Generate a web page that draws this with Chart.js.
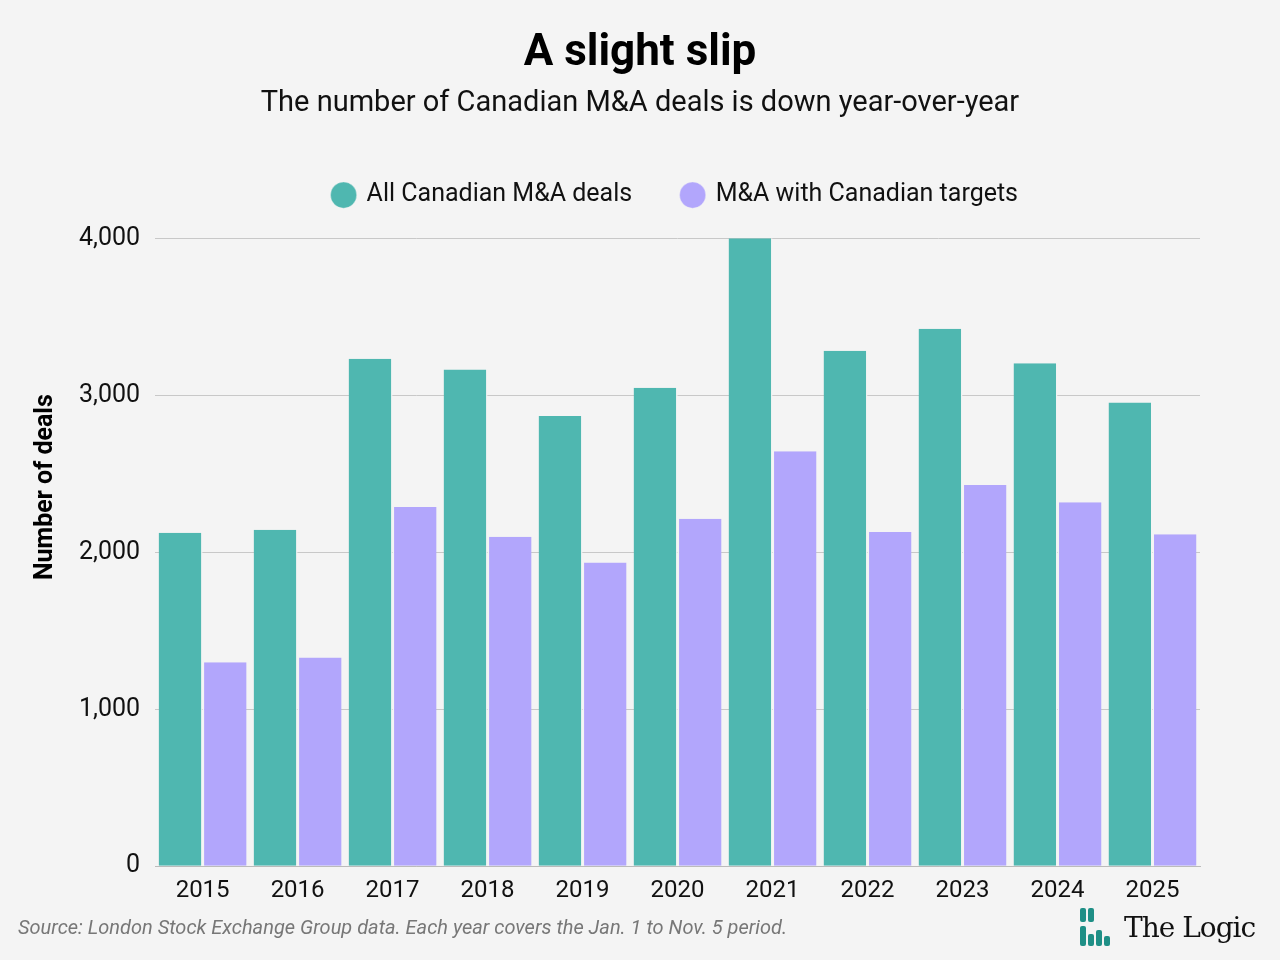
<!DOCTYPE html>
<html>
<head>
<meta charset="utf-8">
<script src="https://cdn.jsdelivr.net/npm/chart.js@4"></script>
<style>
  body { margin: 0; background: #f4f4f4; font-family: Roboto, sans-serif; }
  #wrap { position: relative; width: 1280px; height: 960px; }
  #source { position: absolute; left: 18px; top: 915px; font-size: 20px; font-style: italic; color: #777; }
  #logo { position: absolute; left: 1080px; top: 908px; display: flex; align-items: center; }
  #logo .icon { position: relative; width: 32px; height: 38px; margin-right: 12px; }
  #logo .icon span { position: absolute; background: #1f8f86; width: 6px; border-radius: 2px; }
  #logo .txt { font-family: "DejaVu Serif", "Liberation Serif", serif; font-size: 28px; color: #111; letter-spacing: -1px; }
</style>
</head>
<body>
<div id="wrap">
  <canvas id="myChart"></canvas>
  <div id="source">Source: London Stock Exchange Group data. Each year covers the Jan. 1 to Nov. 5 period.</div>
  <div id="logo">
    <div class="icon">
      <span style="left:0;top:0;height:14px"></span>
      <span style="left:8px;top:0;height:14px"></span>
      <span style="left:0;top:18px;height:20px"></span>
      <span style="left:8px;top:26px;height:12px"></span>
      <span style="left:16px;top:22px;height:16px"></span>
      <span style="left:24px;top:28px;height:10px"></span>
    </div>
    <div class="txt">The Logic</div>
  </div>
</div>
<script>
// 年
const years = ['2015', '2016', '2017', '2018', '2019', '2020', '2021', '2022', '2023', '2024', '2025'];
// 全てのカナダM&A件数
const allDeals = [2125, 2145, 3235, 3165, 2870, 3050, 4005, 3285, 3425, 3205, 2955];
// カナダ企業が対象のM&A件数
const targetDeals = [1300, 1330, 2290, 2100, 1935, 2215, 2645, 2130, 2430, 2320, 2115];

const data = {
    labels: years,
    datasets: [{
        label: 'All Canadian M&A deals',
        data: allDeals,
        backgroundColor: '#4fb7b0',
        borderColor: '#f4f4f4',
        borderWidth: { left: 0, right: 1.5, top: 0, bottom: 0 }
    }, {
        label: 'M&A with Canadian targets',
        data: targetDeals,
        backgroundColor: '#b2a6fc',
        borderColor: '#f4f4f4',
        borderWidth: { left: 1.5, right: 0, top: 0, bottom: 0 }
    }]
};

// 凡例の下に余白を調整する
const legendSpace = {
    id: 'legendSpace',
    beforeInit(chart) {
        const origFit = chart.legend.fit;
        chart.legend.fit = function () {
            origFit.bind(chart.legend)();
            this.height += 21;
        };
    },
    // タイトルはキャンバス中央、凡例はグラフ領域中央に寄せる
    afterLayout(chart) {
        const area = chart.chartArea;
        chart.boxes.forEach(box => {
            if (box.axis) return;
            const target = box === chart.legend ? (area.left + area.right) / 2 - 2 : chart.width / 2;
            const d = target - (box.left + box.right) / 2;
            box.left += d;
            box.right += d;
        });
    }
};

const config = {
    type: 'bar',
    data: data,
    options: {
        responsive: true,
        maintainAspectRatio: false,
        animation: false,
        layout: { padding: { left: 27, right: 80, top: 28, bottom: 53 } },
        datasets: { bar: { barPercentage: 1.0, categoryPercentage: 0.926 } },
        plugins: {
            title: {
                display: true,
                text: 'A slight slip',
                color: '#000',
                font: { family: 'Roboto', size: 44, weight: 'bold' },
                padding: { top: 0, bottom: 6 }
            },
            subtitle: {
                display: true,
                text: 'The number of Canadian M&A deals is down year-over-year',
                color: '#111',
                font: { family: 'Roboto', size: 29 },
                padding: { top: 0, bottom: 11 }
            },
            legend: {
                labels: {
                    usePointStyle: true,
                    pointStyle: 'circle',
                    boxWidth: 21,
                    boxHeight: 18.5,
                    padding: 50,
                    color: '#111',
                    font: { family: 'Roboto', size: 25 }
                }
            },
            tooltip: { enabled: false }
        },
        scales: {
            x: {
                grid: { display: false },
                border: { color: '#bbb' },
                ticks: { color: '#111', font: { family: 'Roboto', size: 24 }, padding: 2 }
            },
            y: {
                min: 0,
                max: 4000,
                ticks: {
                    stepSize: 1000,
                    color: '#111',
                    padding: 15,
                    font: { family: 'Roboto', size: 25 },
                    callback: v => v.toLocaleString('en-US')
                },
                grid: { color: '#c8c8c8', drawTicks: false },
                border: { display: false },
                title: {
                    display: true,
                    // 先頭の空白で文字を少し上に寄せる
                    text: '\u00a0'.repeat(21) + 'Number of deals',
                    color: '#000',
                    font: { family: 'Roboto', size: 25, weight: 'bold' },
                    padding: { top: 4, bottom: 3 }
                }
            }
        }
    },
    plugins: [legendSpace]
};

const myChart = new Chart(document.getElementById('myChart'), config);
</script>
</body>
</html>
